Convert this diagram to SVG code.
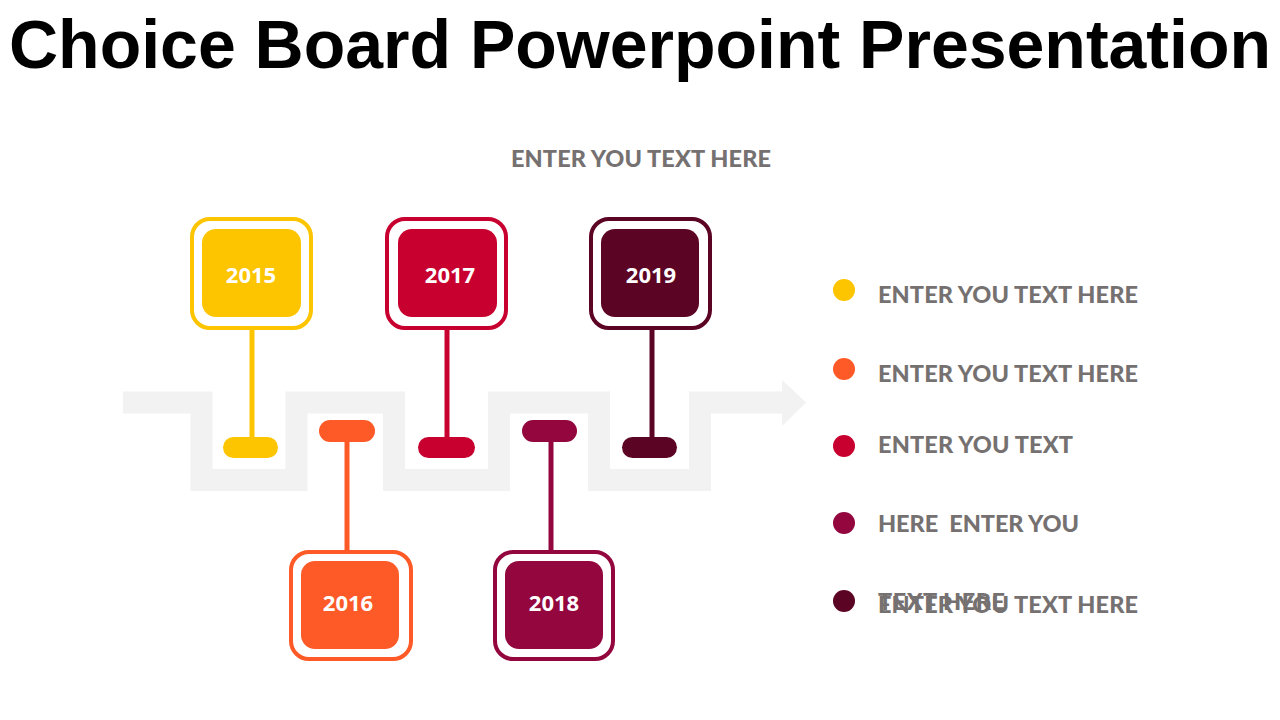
<svg xmlns="http://www.w3.org/2000/svg" width="1280" height="720" viewBox="0 0 1280 720">
<style>
.title{font-family:"Liberation Sans",Arial,sans-serif;font-weight:bold;font-size:68px;fill:#000}
.lbl{font-family:Lato,"Open Sans",sans-serif;font-weight:900;font-size:23.5px;fill:#767171;white-space:pre}
.yr{font-family:"Open Sans","Noto Sans",sans-serif;font-weight:bold;font-size:22px;fill:#fff;text-anchor:middle}
.outer{fill:#fff;stroke-width:4}
.stem{stroke-width:5;fill:none}
</style>
<rect width="1280" height="720" fill="#fff"/>
<text class="title" x="640" y="68" text-anchor="middle">Choice Board Powerpoint Presentation</text>
<text class="lbl" x="511" y="167" textLength="260" lengthAdjust="spacing">ENTER YOU TEXT HERE</text>

<g id="track">
<path d="M123,402.5 H201.5 V480 H296.5 V402.5 H394 V480 H499 V402.5 H599 V480 H700 V402.5 H784" fill="none" stroke="#F2F2F2" stroke-width="22" stroke-linejoin="miter"/>
<polygon points="782,380 806,402.5 782,426" fill="#F2F2F2"/>
</g>

<g id="connectors">
<line class="stem" x1="252" y1="330" x2="252" y2="440" stroke="#FDC400"/>
<line class="stem" x1="347" y1="440" x2="347" y2="551" stroke="#FE5A28"/>
<line class="stem" x1="447" y1="330" x2="447" y2="440" stroke="#C8002F"/>
<line class="stem" x1="551" y1="440" x2="551" y2="551" stroke="#93073E"/>
<line class="stem" x1="652" y1="330" x2="652" y2="440" stroke="#5C0424"/>
</g>

<g id="node-2015">
<rect class="outer" x="192" y="219" width="119" height="109" rx="18" stroke="#FDC400"/>
<rect x="202" y="229" width="99" height="88" rx="14" fill="#FDC400"/>
<rect x="223" y="437" width="55" height="21" rx="10.5" fill="#FDC400"/>
<text class="yr" x="251" y="283">2015</text>
</g>
<g id="node-2016">
<rect class="outer" x="291" y="552" width="120" height="107" rx="18" stroke="#FE5A28"/>
<rect x="301" y="561" width="98" height="88" rx="14" fill="#FE5A28"/>
<rect x="319" y="420" width="56" height="22" rx="11" fill="#FE5A28"/>
<text class="yr" x="348" y="611">2016</text>
</g>
<g id="node-2017">
<rect class="outer" x="387" y="219" width="119" height="109" rx="18" stroke="#C8002F"/>
<rect x="398" y="229" width="99" height="88" rx="14" fill="#C8002F"/>
<rect x="418" y="437" width="57" height="21" rx="10.5" fill="#C8002F"/>
<text class="yr" x="450" y="283">2017</text>
</g>
<g id="node-2018">
<rect class="outer" x="495" y="552" width="118" height="107" rx="18" stroke="#93073E"/>
<rect x="505" y="561" width="98" height="88" rx="14" fill="#93073E"/>
<rect x="522" y="420" width="55" height="22" rx="11" fill="#93073E"/>
<text class="yr" x="554" y="611">2018</text>
</g>
<g id="node-2019">
<rect class="outer" x="591" y="219" width="119" height="109" rx="18" stroke="#5C0424"/>
<rect x="601" y="229" width="98" height="88" rx="14" fill="#5C0424"/>
<rect x="622" y="437" width="55" height="21" rx="10.5" fill="#5C0424"/>
<text class="yr" x="651" y="283">2019</text>
</g>

<g id="legend">
<circle cx="844" cy="290" r="11" fill="#FDC400"/>
<text class="lbl" x="878" y="303" textLength="260" lengthAdjust="spacing">ENTER YOU TEXT HERE</text>
<circle cx="844" cy="369" r="11" fill="#FE5A28"/>
<text class="lbl" x="878" y="382" textLength="260" lengthAdjust="spacing">ENTER YOU TEXT HERE</text>
<circle cx="844" cy="446" r="11" fill="#C8002F"/>
<text class="lbl" x="878" y="453" textLength="195" lengthAdjust="spacing">ENTER YOU TEXT</text>
<circle cx="844" cy="523" r="11" fill="#93073E"/>
<text class="lbl" x="878" y="532" textLength="201" lengthAdjust="spacing">HERE  ENTER YOU</text>
<circle cx="844" cy="601" r="11" fill="#5C0424"/>
<text class="lbl" x="878" y="610" textLength="127" lengthAdjust="spacing">TEXT HERE</text>
<text class="lbl" x="878" y="613" textLength="260" lengthAdjust="spacing">ENTER YOU TEXT HERE</text>
</g>
</svg>
